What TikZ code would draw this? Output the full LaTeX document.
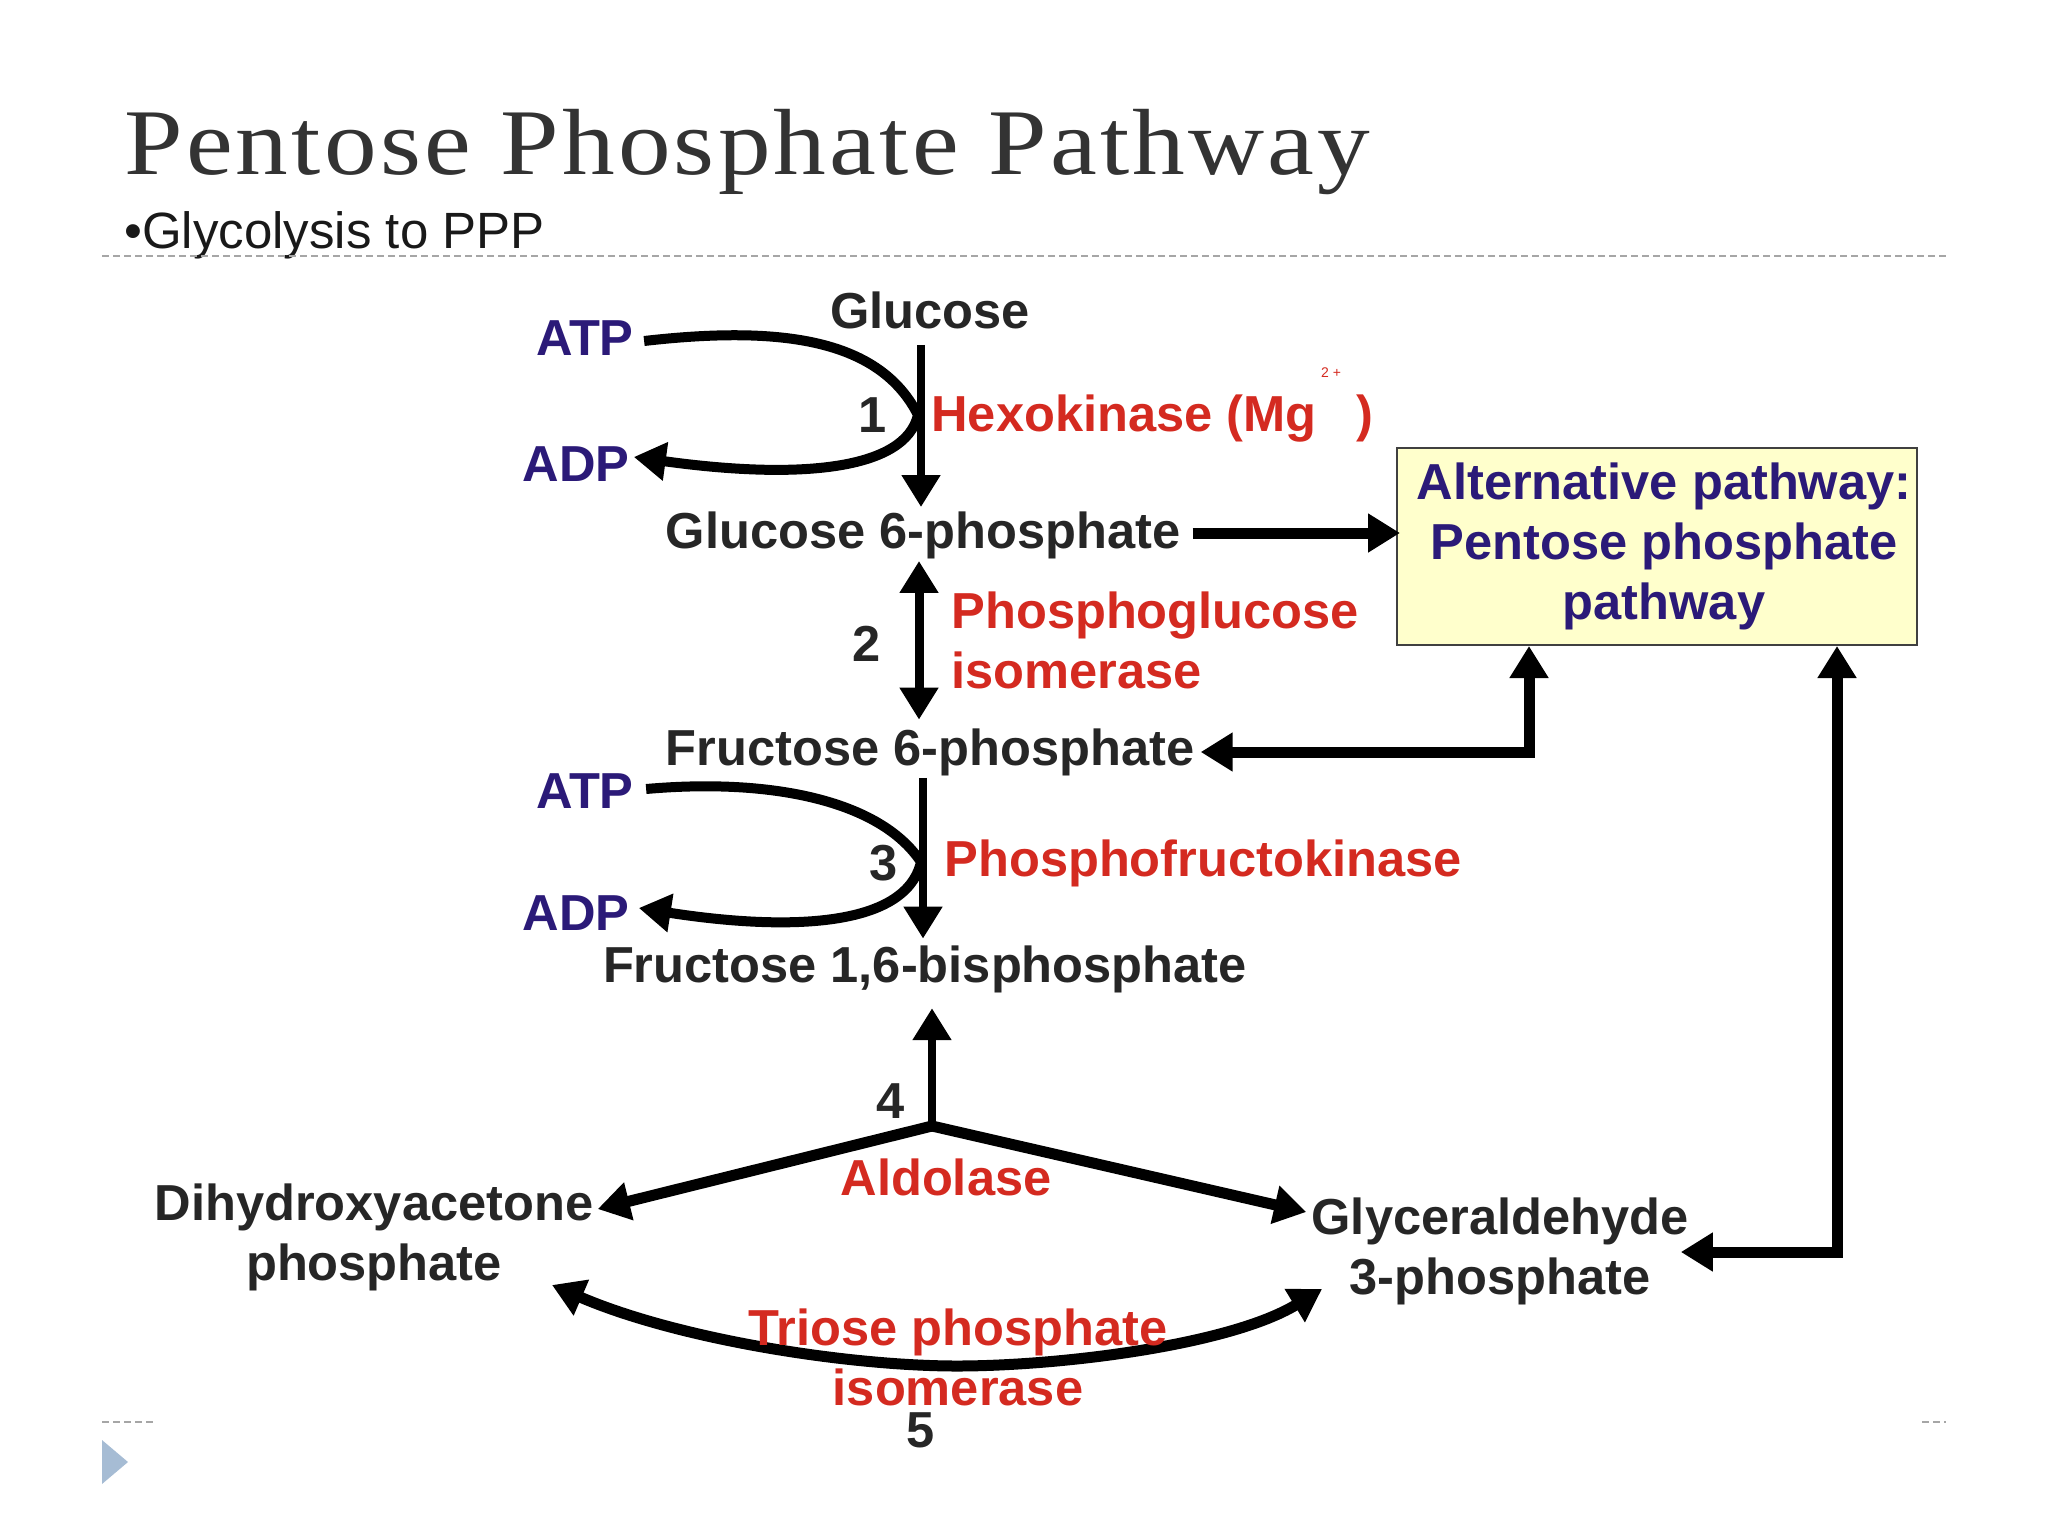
\documentclass[tikz,border=0pt]{standalone}
\usepackage{fontspec}
\setmainfont{Liberation Sans}
\newfontfamily\titlefont[LetterSpace=3.4,FakeStretch=1.12]{Liberation Serif}
\usetikzlibrary{arrows.meta}
\definecolor{enzymered}{HTML}{D42A20}
\definecolor{cofactorblue}{HTML}{2B1A78}
\definecolor{boxyellow}{HTML}{FFFFCC}
\definecolor{ruleblue}{HTML}{A6BCD4}
\tikzset{
	metabolite/.style={text=black!85,font=\fontsize{25.3}{30}\bfseries\selectfont,align=center},
	enzyme/.style={metabolite,text=enzymered},
	cofactor/.style={metabolite,text=cofactorblue},
	flow/.style={line width=4pt,-{Triangle[width=18.5pt,length=16pt]}},
	flowtwo/.style={line width=4.5pt,{Triangle[width=18.5pt,length=16pt]}-{Triangle[width=18.5pt,length=16pt]}},
	heavy/.style={line width=5.5pt,-{Triangle[width=18.5pt,length=16pt]}},
	heavytwo/.style={line width=5.5pt,{Triangle[width=18.5pt,length=16pt]}-{Triangle[width=18.5pt,length=16pt]}},
	slide rule/.style={black!35,line width=0.7pt,dash pattern=on 3.5pt off 2pt}
}
\begin{document}
\begin{tikzpicture}[x=0.5pt,y=-0.5pt,every node/.style={inner sep=0pt}]
	\useasboundingbox (0,0) rectangle (2048,1536);
	\node[anchor=base west,font=\fontsize{47}{50}\titlefont,text=black!80] (title) at (124,174) {Pentose Phosphate Pathway};
	\node[anchor=base west,font=\fontsize{25.5}{30}\selectfont,text=black!90] (subtitle) at (124,248) {•Glycolysis to PPP};
	\draw[slide rule] (102,256) -- (1946,256);
	\draw[slide rule] (102,1422) -- (154,1422);
	\draw[slide rule] (1922,1422) -- (1946,1422);
	\fill[ruleblue] (102,1440) -- (128,1462) -- (102,1484) -- cycle;

	\node[metabolite] (glucose) at (930,310) {Glucose};
	\node[cofactor] (atp-one) at (585,338) {ATP};
	\node[cofactor] (adp-one) at (576,464) {ADP};
	\node[metabolite] (g6p) at (923,535) {Glucose 6-phosphate};
	\node[enzyme,anchor=west] (hexokinase) at (931,419) {Hexokinase (Mg\hspace{20pt})};
	\node[text=enzymered,font=\fontsize{7}{8}\selectfont] (mgcharge) at (1331,373) {2 +};
	\node[metabolite] (num-one) at (873,415) {1};
	\node[enzyme,anchor=west,align=left] (pgi) at (951,640) {Phosphoglucose\\isomerase};
	\node[metabolite] (num-two) at (867,644) {2};
	\node[metabolite] (f6p) at (930,752) {Fructose 6-phosphate};
	\node[cofactor] (atp-two) at (585,791) {ATP};
	\node[cofactor] (adp-two) at (576,913) {ADP};
	\node[metabolite] (num-three) at (884,863) {3};
	\node[enzyme,anchor=west] (pfk) at (944,863) {Phosphofructokinase};
	\node[metabolite] (f16bp) at (925,969) {Fructose 1,6-bisphosphate};
	\node[metabolite] (num-four) at (891,1101) {4};
	\node[enzyme] (aldolase) at (946,1177) {Aldolase};
	\node[metabolite] (dhap) at (374,1237) {Dihydroxyacetone\\phosphate};
	\node[metabolite] (gap) at (1500,1251) {Glyceraldehyde\\3-phosphate};
	\node[metabolite] (num-five) at (921,1430) {5};
	\node[draw=black!75,line width=1pt,fill=boxyellow,minimum width=260pt,minimum height=98.5pt] (altbox) at (1657,546.5) {};
	\node[cofactor] (alttext) at (1664,546) {Alternative pathway:\\Pentose phosphate\\pathway};

	\coordinate (split) at (932,1126);
	\coordinate (turn-one) at (918,415);
	\coordinate (turn-two) at (921,862);
	\coordinate (corner-left) at (1529,752);
	\coordinate (corner-right) at (1837,1252);

	\draw[flow] ([xshift=-4.5pt,yshift=-8pt]glucose.south) -- ([xshift=-1pt,yshift=2pt]g6p.north);
	\draw[flowtwo] ([xshift=-2pt,yshift=-1pt]g6p.south) -- ([xshift=-5.5pt,yshift=4.2pt]f6p.north);
	\draw[flow] ([xshift=-3.5pt,yshift=-1pt]f6p.south) -- ([xshift=-1pt,yshift=3.2pt]f16bp.north);
	\draw[heavy] ([xshift=6pt,yshift=1pt]g6p.east) -- ([xshift=2pt,yshift=1pt]altbox.west |- g6p.east);
	\draw[heavytwo] ([xshift=3pt]f6p.east) -- (corner-left) -- (corner-left |- altbox.south);
	\draw[heavytwo,line join=miter] (gap.east |- corner-right) ++(-4pt,0) -- (corner-right) -- (corner-right |- altbox.south);
	\draw[flow] (split) -- ([xshift=3.5pt,yshift=-7.6pt]f16bp.south);
	\draw[heavy] (split) -- ([xshift=2pt,yshift=-13pt]dhap.north east);
	\draw[heavy] (split) -- ([xshift=-2.5pt,yshift=-7.5pt]gap.north west);
	\draw[heavy,line width=5pt] ([xshift=5pt,yshift=-1.5pt]atp-one.east) .. controls (784,325) and (880,340) .. (turn-one) .. controls (905,470) and (800,480) .. ([xshift=2pt,yshift=3.5pt]adp-one.east);
	\draw[heavy,line width=5pt] ([xshift=6pt,yshift=1pt]atp-two.east) .. controls (770,778) and (880,800) .. (turn-two) .. controls (905,930) and (780,930) .. ([xshift=4.5pt,yshift=2.5pt]adp-two.east);
	\draw[heavytwo] ([xshift=89pt,yshift=3pt]dhap.south) .. controls (680,1340) and (850,1366) .. (957,1366) .. controls (1060,1366) and (1230,1345) .. ([xshift=-89pt,yshift=8pt]gap.south);
	\node[enzyme] (tpi) at (958,1357) {Triose phosphate\\isomerase};
\end{tikzpicture}
\end{document}
